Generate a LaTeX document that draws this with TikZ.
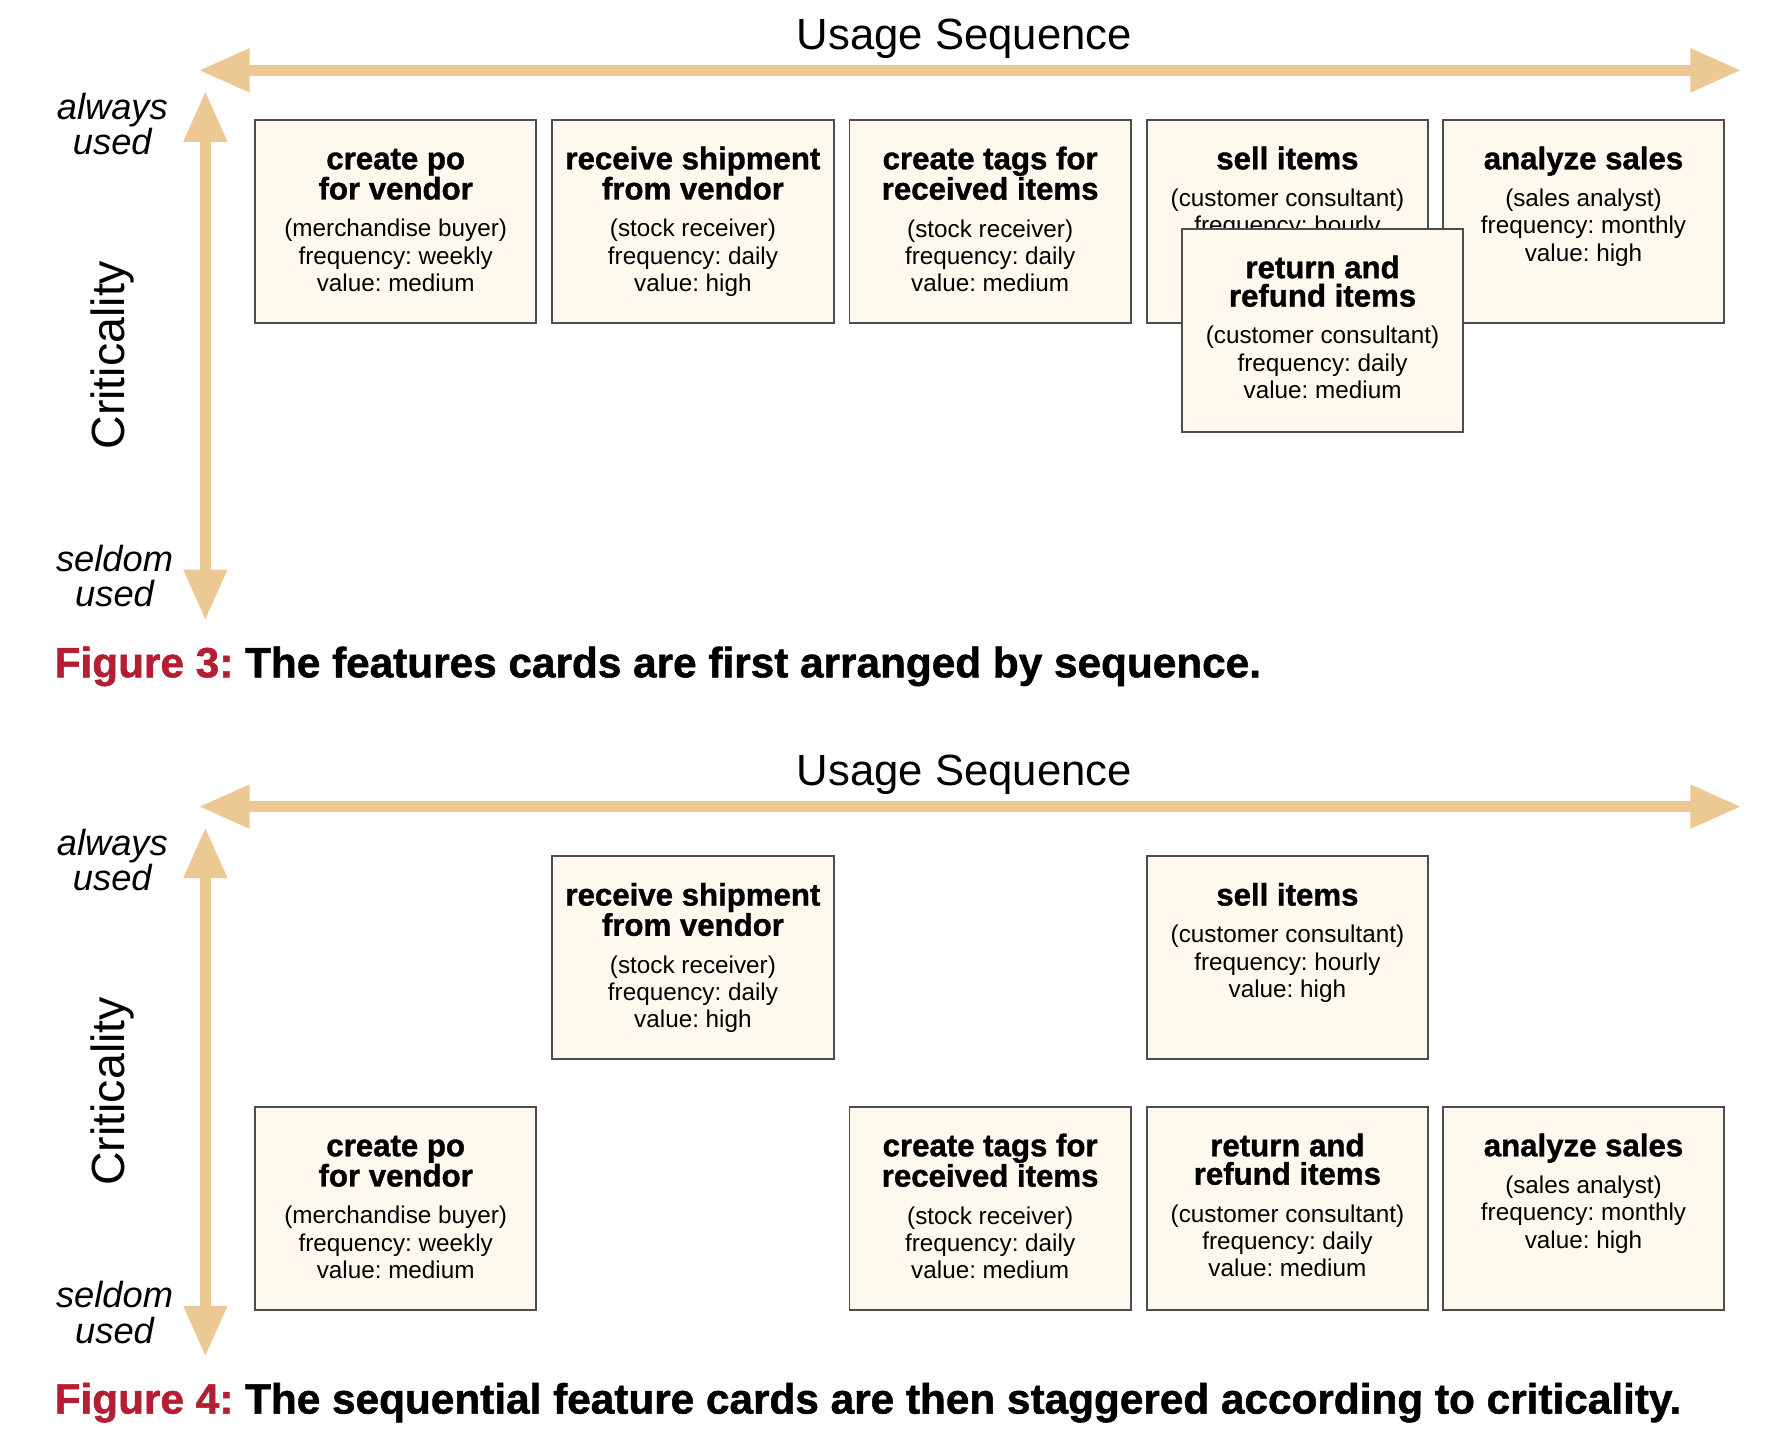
\documentclass[tikz,border=0pt]{standalone}
\usepackage{fontspec}
\setmainfont{Liberation Sans}
\newfontfamily\heavyfont[BoldFeatures={FakeBold=1.2}]{Liberation Sans}
\usetikzlibrary{arrows.meta}
\definecolor{axistan}{HTML}{ECC992}
\definecolor{cardfill}{HTML}{FFF8EE}
\definecolor{cardline}{HTML}{4D4D4D}
\definecolor{figred}{HTML}{B41E32}
\frenchspacing
\newcommand{\cardtitle}{\fontsize{27.5}{25}\selectfont\heavyfont\bfseries}
\newcommand{\carddetail}{\normalfont\fontsize{21.4}{24}\selectfont}
% feature card: name, top left corner, title, details
\newcommand{\featurecard}[4]{%
  \node[card] (#1) at (#2) {};
  \node[cardtext] (#1-text) at ([yshift=-24pt]#1.north)
    {\cardtitle\rule{0pt}{20pt}#3\par\vspace{9pt}\carddetail #4\par};
}

\begin{document}
\begin{tikzpicture}[x=1pt, y=-1pt,
  seqarrow/.style={line width=10pt, draw=axistan,
    {Triangle[length=45pt,width=36pt]}-{Triangle[length=45pt,width=36pt]}},
  card/.style={draw=cardline, line width=1.6pt, fill=cardfill, anchor=north west,
    minimum width=248pt, minimum height=179pt, inner sep=0pt},
  cardtext/.style={anchor=north, text width=246pt, align=flush center, inner sep=0pt},
  heading/.style={font=\fontsize{38.5}{40}\selectfont},
  usage/.style={font=\fontsize{32}{31}\selectfont\itshape, align=center, inner sep=0pt},
  caption/.style={font=\fontsize{37.3}{40}\selectfont\heavyfont\bfseries, anchor=base west, inner sep=0pt}]

\useasboundingbox (0,0) rectangle (1569,1269.3);

% Figure 3: cards by sequence
\node[heading] (seq-a) at (850,34) {Usage Sequence};
\coordinate (seq-a-left) at (175,62);
\coordinate (seq-a-right) at (1535,62);
\draw[seqarrow] (seq-a-left) -- (seq-a-right);

\coordinate (crit-a-top) at (181,80);
\coordinate (crit-a-bottom) at (181,547);
\draw[seqarrow] (crit-a-top) -- (crit-a-bottom);
\node[heading, rotate=90, font=\fontsize{41}{43}\selectfont] (crit-a) at (99,313) {Criticality};
\node[usage] (always-a) at (99,109) {always\\used};
\node[usage] (seldom-a) at (101,508) {seldom\\used};

\featurecard{po-a}{224,105}{create po\\for vendor}{(merchandise buyer)\\frequency: weekly\\value: medium}
\featurecard{ship-a}{486,105}{receive shipment\\from vendor}{(stock receiver)\\frequency: daily\\value: high}
\featurecard{tags-a}{748,105}{create tags for\\received items}{(stock receiver)\\frequency: daily\\value: medium}
\featurecard{sell-a}{1010,105}{sell items}{(customer consultant)\\frequency: hourly\\value: high}
\featurecard{sales-a}{1271,105}{analyze sales}{(sales analyst)\\frequency: monthly\\value: high}
\featurecard{refund-a}{1041,201}{return and\\refund items}{(customer consultant)\\frequency: daily\\value: medium}

\node[caption] (cap-a) at (48,597)
  {\textcolor{figred}{Figure 3:} The features cards are first arranged by sequence.};

% Figure 4: cards staggered by criticality
\node[heading] (seq-b) at (850,683) {Usage Sequence};
\coordinate (seq-b-left) at (175,711);
\coordinate (seq-b-right) at (1535,711);
\draw[seqarrow] (seq-b-left) -- (seq-b-right);

\coordinate (crit-b-top) at (181,729);
\coordinate (crit-b-bottom) at (181,1196);
\draw[seqarrow] (crit-b-top) -- (crit-b-bottom);
\node[heading, rotate=90, font=\fontsize{41}{43}\selectfont] (crit-b) at (99,962) {Criticality};
\node[usage] (always-b) at (99,758) {always\\used};
\node[usage] (seldom-b) at (101,1157) {seldom\\used};

\featurecard{ship-b}{486,754}{receive shipment\\from vendor}{(stock receiver)\\frequency: daily\\value: high}
\featurecard{sell-b}{1010,754}{sell items}{(customer consultant)\\frequency: hourly\\value: high}
\featurecard{po-b}{224,975}{create po\\for vendor}{(merchandise buyer)\\frequency: weekly\\value: medium}
\featurecard{tags-b}{748,975}{create tags for\\received items}{(stock receiver)\\frequency: daily\\value: medium}
\featurecard{refund-b}{1010,975}{return and\\refund items}{(customer consultant)\\frequency: daily\\value: medium}
\featurecard{sales-b}{1271,975}{analyze sales}{(sales analyst)\\frequency: monthly\\value: high}

\node[caption] (cap-b) at (48,1246)
  {\textcolor{figred}{Figure 4:} The sequential feature cards are then staggered according to criticality.};

\end{tikzpicture}
\end{document}
